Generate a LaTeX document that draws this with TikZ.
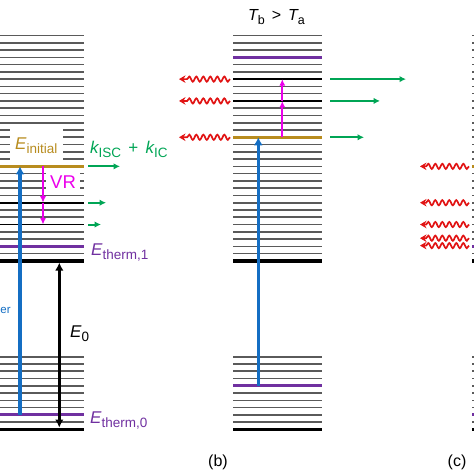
\documentclass[tikz,border=0pt]{standalone}
\usepackage{fontspec}
\setmainfont{Liberation Sans}
\usetikzlibrary{arrows.meta,decorations.pathmorphing}
\definecolor{lvgray}{RGB}{90,90,90}
\definecolor{goldc}{RGB}{184,140,30}
\definecolor{purp}{RGB}{112,48,160}
\definecolor{laserc}{RGB}{20,110,195}
\definecolor{grn}{RGB}{0,165,85}
\definecolor{mag}{RGB}{235,0,235}
\definecolor{wred}{RGB}{225,20,20}
\newcommand\sbs[1]{\raisebox{-4pt}{\fontsize{13.5}{14}\selectfont #1}}
\newcommand\sbt[1]{\raisebox{-3.8pt}{\fontsize{12.5}{13}\selectfont #1}}
\tikzset{
  lev/.style={draw=lvgray, line width=1.6pt},
  blklev/.style={draw=black, line width=1.7pt},
  baselev/.style={draw=black, line width=3.5pt},
  purlev/.style={draw=purp, line width=3.2pt},
  goldlev/.style={draw=goldc, line width=3.2pt},
  laserarrow/.style={draw=laserc, line width=3.5pt, -{Latex[length=8pt,width=9pt]}},
  vrarrow/.style={draw=mag, line width=1.9pt, -{Latex[length=6.5pt,width=6pt]}},
  grnarrow/.style={draw=grn, line width=2pt, -{Latex[length=6.5pt,width=6.5pt]}},
  eoarrow/.style={draw=black, line width=2.4pt, {Latex[length=8pt,width=8.5pt]}-{Latex[length=8pt,width=8.5pt]}},
  wavy/.style={draw=wred, line width=1.7pt, decorate,
    decoration={snake, amplitude=2.6pt, segment length=7pt, post length=5pt},
    -{Stealth[length=6.5pt,width=7.5pt]}},
  lbl/.style={inner sep=0pt, font=\fontsize{17}{20}\selectfont},
}
\begin{document}
\begin{tikzpicture}[x=1pt,y=-1pt]
\useasboundingbox (0,0) rectangle (474,474);
% ---------- level ladders ----------
\foreach \xa/\xb in {-5/84, 233/322, 472/561}{
  \foreach \i in {0,...,31}{
    \draw[lev] (\xa,{35.5+7.27*\i}) -- (\xb,{35.5+7.27*\i});
  }
  \foreach \k in {0,...,10}{
    \draw[lev] (\xa,{356.7+7.27*\k}) -- (\xb,{356.7+7.27*\k});
  }
  \draw[baselev] (\xa,260.87) -- (\xb,260.87);
  \draw[baselev] (\xa,429.4) -- (\xb,429.4);
}
% panel (a) special levels
\draw[goldlev] (-5,166.36) -- (84,166.36);
\draw[blklev] (-5,202.71) -- (84,202.71);
\draw[blklev] (-5,224.52) -- (84,224.52);
\draw[purlev] (-5,246.33) -- (84,246.33);
\draw[purlev] (-5,414.86) -- (84,414.86);
% panel (b) special levels
\draw[purlev] (233,57.31) -- (322,57.31);
\draw[blklev] (233,79.12) -- (322,79.12);
\draw[blklev] (233,100.93) -- (322,100.93);
\draw[goldlev] (233,137.28) -- (322,137.28);
\draw[purlev] (233,385.78) -- (322,385.78);
% panel (c) special levels
\draw[goldlev] (472,166.36) -- (561,166.36);
\draw[purlev] (472,246.33) -- (561,246.33);
\draw[purlev] (472,414.86) -- (561,414.86);
% gaps for labels
\fill[white] (10,126) rectangle (63,162.6);
\fill[white] (46,169.8) rectangle (80,192);
% ---------- named coordinates ----------
\coordinate (aL0) at (20,414.86);
\coordinate (aIni) at (20,166.36);
\coordinate (aV0) at (43,166.36);
\coordinate (aV1) at (43,202.71);
\coordinate (aV2) at (43,224.52);
\coordinate (aE1) at (59.3,262.6);
\coordinate (aE0) at (59.3,427.6);
\coordinate (aG0s) at (88,166.36);  \coordinate (aG0e) at (120,166.36);
\coordinate (aG1s) at (88,202.71);  \coordinate (aG1e) at (106,202.71);
\coordinate (aG2s) at (88,224.52);  \coordinate (aG2e) at (101,224.52);
\coordinate (bL0) at (258.3,385.78);
\coordinate (bIni) at (258.3,137.28);
\coordinate (bV0) at (282.3,137.28);
\coordinate (bV1) at (282.3,100.93);
\coordinate (bV2) at (282.3,79.12);
\coordinate (bG0s) at (330,79.12);  \coordinate (bG0e) at (406,79.12);
\coordinate (bG1s) at (330,100.93); \coordinate (bG1e) at (380,100.93);
\coordinate (bG2s) at (330,137.28); \coordinate (bG2e) at (364,137.28);
\coordinate (bW0s) at (230,79.12);  \coordinate (bW0e) at (179,79.12);
\coordinate (bW1s) at (230,100.93); \coordinate (bW1e) at (179,100.93);
\coordinate (bW2s) at (230,137.28); \coordinate (bW2e) at (179,137.28);
\coordinate (cW0s) at (469,166.36); \coordinate (cW0e) at (420,166.36);
\coordinate (cW1s) at (469,202.71); \coordinate (cW1e) at (420,202.71);
\coordinate (cW2s) at (469,224.52); \coordinate (cW2e) at (420,224.52);
\coordinate (cW3s) at (469,238.2);  \coordinate (cW3e) at (420,238.2);
\coordinate (cW4s) at (469,245.6);  \coordinate (cW4e) at (420,245.6);
% ---------- arrows ----------
\draw[laserarrow] (aL0) -- (aIni);
\draw[laserarrow] (bL0) -- (bIni);
\draw[vrarrow] (aV0) -- (aV1);
\draw[vrarrow] (aV1) -- (aV2);
\draw[vrarrow] (bV0) -- (bV1);
\draw[vrarrow] (bV1) -- (bV2);
\draw[eoarrow] (aE1) -- (aE0);
\draw[grnarrow] (aG0s) -- (aG0e);
\draw[grnarrow] (aG1s) -- (aG1e);
\draw[grnarrow] (aG2s) -- (aG2e);
\draw[grnarrow] (bG0s) -- (bG0e);
\draw[grnarrow] (bG1s) -- (bG1e);
\draw[grnarrow] (bG2s) -- (bG2e);
\foreach \n in {bW0,bW1,bW2,cW0,cW1,cW2,cW3,cW4}{
  \draw[wavy] (\n s) -- (\n e);
}
% ---------- labels ----------
\node[lbl, text=goldc, anchor=base west] (tini) at (15,149) {\itshape E\upshape\sbs{initial}};
\node[lbl, text=mag, anchor=base west, font=\fontsize{18.5}{20}\selectfont] (tvr) at (50,188.3) {VR};
\node[lbl, text=grn, anchor=base west] (tk) at (90,153) {\itshape k\upshape\sbs{ISC}\hspace{2.5pt} + \hspace{2.5pt}\itshape k\upshape\sbs{IC}};
\node[lbl, text=purp, anchor=base west] (tth1) at (91,255) {\itshape E\upshape\sbs{therm,1}};
\node[lbl, text=purp, anchor=base west] (tth0) at (90,423.3) {\itshape E\upshape\sbs{therm,0}};
\node[lbl, anchor=base west] (te0) at (70,337.3) {\itshape E\upshape\sbs{0}};
\node[lbl, anchor=base west, font=\fontsize{16}{18}\selectfont] (ttt) at (248,20.7) {\itshape T\upshape\sbt{b}\hspace{2.5pt} > \hspace{2.5pt}\itshape T\upshape\sbt{a}};
\node[lbl, text=laserc, anchor=base west, font=\fontsize{11.5}{14}\selectfont] (tlas) at (0.3,313) {er};
\node[lbl, font=\fontsize{16}{18}\selectfont] (tb) at (218,462) {(b)};
\node[lbl, font=\fontsize{16}{18}\selectfont] (tc) at (457,462) {(c)};
\end{tikzpicture}
\end{document}
